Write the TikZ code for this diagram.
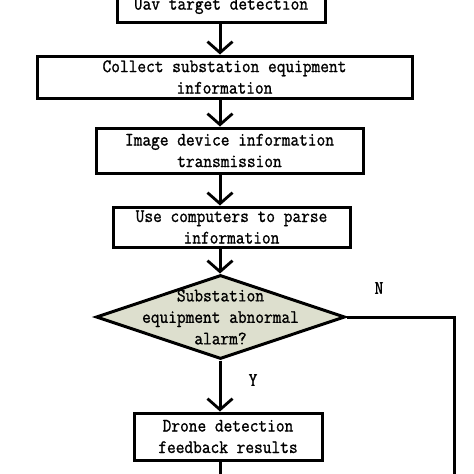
\documentclass[tikz,border=0pt]{standalone}
\usepackage{fontspec}
\newfontfamily\flowfont{Latin Modern Mono}[FakeStretch=0.89, FakeBold=1.2]
\usetikzlibrary{shapes.geometric,arrows.meta}
\definecolor{diafill}{RGB}{221,223,206}
\begin{document}
\begin{tikzpicture}[x=1pt,y=-1pt,
  txt/.style={font=\fontsize{19}{21.5}\selectfont\flowfont, align=center, inner sep=0pt},
  box/.style={txt, draw, line width=3pt},
  flow/.style={line width=3pt, -{Straight Barb[length=11pt,width=25pt,line width=2.8pt]}},
  link/.style={line width=3pt}]
\useasboundingbox (0,0) rectangle (474,474);
\clip (0,0) rectangle (474,474);
\node[box, minimum width=208pt, minimum height=32pt] (b1) at (221,6) {Uav target detection};
\node[box, minimum width=375pt, minimum height=42pt] (b2) at (224.5,77) {Collect substation equipment\\information};
\node[box, minimum width=267pt, minimum height=45pt] (b3) at (229.5,150.5) {Image device information\\transmission};
\node[box, minimum width=237pt, minimum height=40pt] (b4) at (231.5,227) {Use computers to parse\\information};
\node[draw, line width=3pt, fill=diafill, shape=diamond, inner sep=0pt, minimum width=249pt, minimum height=84pt] (dia) at (220.5,317) {};
\node[txt] (diatext) at (dia.center) {Substation\\equipment abnormal\\alarm?};
\node[box, minimum width=188pt, minimum height=47pt] (b5) at (228,436.5) {Drone detection\\feedback results};
\node[txt] (ylab) at (253,380) {Y};
\node[txt] (nlab) at (379,288) {N};
\coordinate (nend) at (454,490);
\coordinate (yend) at (220,490);
\draw[flow] (b1.south -| 220,0) -- (b2.north -| 220,0);
\draw[flow] (b2.south -| 220,0) -- (b3.north -| 220,0);
\draw[flow] (b3.south -| 220,0) -- (b4.north -| 220,0);
\draw[flow] (b4.south -| 220,0) -- (dia.north -| 220,0);
\draw[flow] (dia.south -| 220,0) -- (b5.north -| 220,0);
\draw[link] (dia.east) -| (nend);
\draw[link] (b5.south -| yend) -- (yend);
\end{tikzpicture}
\end{document}
